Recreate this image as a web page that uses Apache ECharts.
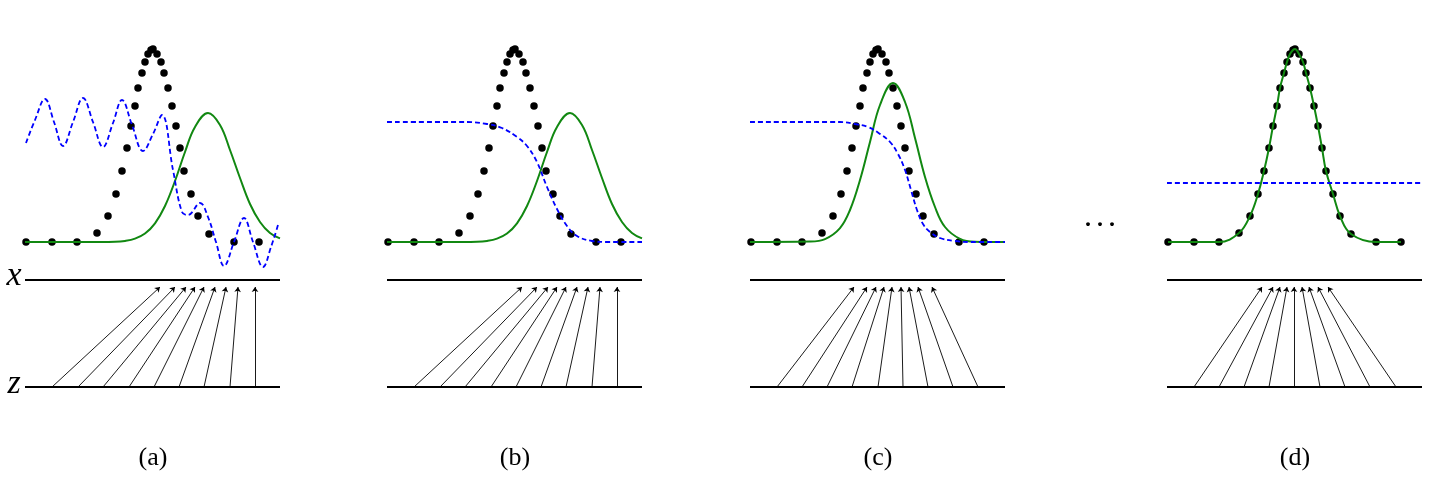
<!DOCTYPE html>
<html><head><meta charset="utf-8">
<script src="https://cdn.jsdelivr.net/npm/echarts@6/dist/echarts.min.js"></script>
<style>html,body{margin:0;padding:0;background:#fff}#c{width:1432px;height:486px}</style>
</head><body><div id="c"></div>
<script>
// Data: x = offset within a panel, y = height above curve baseline (panel units)
var panelLabels = ['(a)', '(b)', '(c)', '(d)'];
var dataDots = [[1,0],[27,0],[52,0],[72,9],[83,26],[91,48],[97,71],[102,94],[106,116],[110,136],[113,154],[117,169],[120,180],[123,188],[126,192],[128,193],[132,188],[136,180],[139,169],[143,154],[147,136],[151,116],[155,94],[159,71],[166,48],[173,26],[184,8],[209,0],[234,0]];
var greenAB = [[0,0],[60,0],[90,0.3],[100,1.1],[110,3.4],[120,8.5],[130,18.7],[140,36],[150,61],[160,90],[170,115],[183,129],[195,117],[205,92],[215,64],[225,38],[235,20],[245,9],[255,3.6]];
var greenC = [[0,0],[60,0.4],[75,2.9],[90,13.9],[100,32],[110,62],[120,100],[130,137],[143,159],[155,140],[165,104],[175,65],[185,35],[195,15],[210,3.2],[225,0.3],[255,0]];
var blueA = [[1,99],[10,122],[20,143],[29,120],[38,96],[48,120],[58,144],[68,120],[78,95],[88,119],[97,142],[107,117],[118,91],[128,108],[137,127],[148,72],[157,30],[163,27],[175,39],[183,25],[191,0],[199,-24],[209,0],[219,24],[228,0],[238,-25],[246,-5],[253,17]];
var blueB = [[0,120],[80,120],[100,118],[115,114],[130,105],[140,96],[150,80],[160,55],[170,33],[180,16],[190,6],[205,1],[220,0],[255,0]];
var blueC = [[0,120],[90,120],[105,118],[118,115],[130,108],[140,100],[148,88],[155,72],[161,52],[167,32],[173,18],[180,10],[190,4],[205,1],[220,0],[255,0]];
var blueD = [[0,59],[255,59]];
var arrowStartsAB = [27,53,78,104,129,154,179,205,230];
var arrowEndsAB = [135,150,161,170,179,190,201,213,230];
var arrowStartsC = [27,52,77,102,128,153,178,203,228];
var arrowEndsC = [104,117,126,134,142,151,159,168,182];
var arrowStartsD = [27,52,77,102,127,153,178,203,229];
var arrowEndsD = [95,106,113,120,127,135,142,151,161];
var xLevel = -38, zLevel = -145, arrowTip = -45;

var panelLeft = [25, 387, 750, 1167];
var panels = [
  {green: greenAB, blue: blueA, s: arrowStartsAB, e: arrowEndsAB},
  {green: greenAB, blue: blueB, s: arrowStartsAB, e: arrowEndsAB},
  {green: greenC, blue: blueC, s: arrowStartsC, e: arrowEndsC},
  {green: dataDots, blue: blueD, s: arrowStartsD, e: arrowEndsD}
];
var grids = [], xAxes = [], yAxes = [], series = [];
panels.forEach(function (p, i) {
  grids.push({left: panelLeft[i], width: 255, top: 30, height: 387, containLabel: false});
  xAxes.push({type: 'value', gridIndex: i, min: 0, max: 255, show: false});
  yAxes.push({type: 'value', gridIndex: i, min: -175, max: 212, show: false});
  var ax = {xAxisIndex: i, yAxisIndex: i, silent: true};
  series.push(Object.assign({type: 'line', data: [[0, xLevel], [255, xLevel]], symbol: 'none', lineStyle: {color: '#000', width: 2}}, ax));
  series.push(Object.assign({type: 'line', data: [[0, zLevel], [255, zLevel]], symbol: 'none', lineStyle: {color: '#000', width: 2}}, ax));
  series.push(Object.assign({type: 'lines', coordinateSystem: 'cartesian2d', symbol: ['none', 'arrow'], symbolSize: 5,
    lineStyle: {color: '#000', width: 0.9, opacity: 1},
    data: p.s.map(function (s, k) { return {coords: [[s, zLevel], [p.e[k], arrowTip]]}; })}, ax));
  series.push(Object.assign({type: 'line', data: p.green, symbol: 'none', smooth: 0.4, lineStyle: {color: '#118811', width: 2}}, ax));
  series.push(Object.assign({type: 'line', data: p.blue, symbol: 'none', smooth: 0.4, lineStyle: {color: '#0000ff', width: 1.8, type: [5, 3]}}, ax));
  series.push(Object.assign({type: 'scatter', data: dataDots, symbolSize: 7.5, itemStyle: {color: '#000', opacity: 1}}, ax));
});
var graphics = panelLabels.map(function (t, i) {
  return {type: 'text', x: panelLeft[i] + 128, y: 458, style: {text: t, font: '26px "Liberation Serif"', fill: '#000', align: 'center', verticalAlign: 'middle'}};
});
graphics.push({type: 'text', x: 14, y: 276, style: {text: 'x', font: 'italic 34px "Liberation Serif"', fill: '#000', align: 'center', verticalAlign: 'middle'}});
graphics.push({type: 'text', x: 14, y: 384, style: {text: 'z', font: 'italic 34px "Liberation Serif"', fill: '#000', align: 'center', verticalAlign: 'middle'}});
graphics.push({type: 'text', x: 1100, y: 220, style: {text: '. . .', font: 'bold 24px "Liberation Serif"', fill: '#000', align: 'center', verticalAlign: 'middle'}});
var chart = echarts.init(document.getElementById('c'));
chart.setOption({animation: false, grid: grids, xAxis: xAxes, yAxis: yAxes, series: series, graphic: graphics});
</script></body></html>
